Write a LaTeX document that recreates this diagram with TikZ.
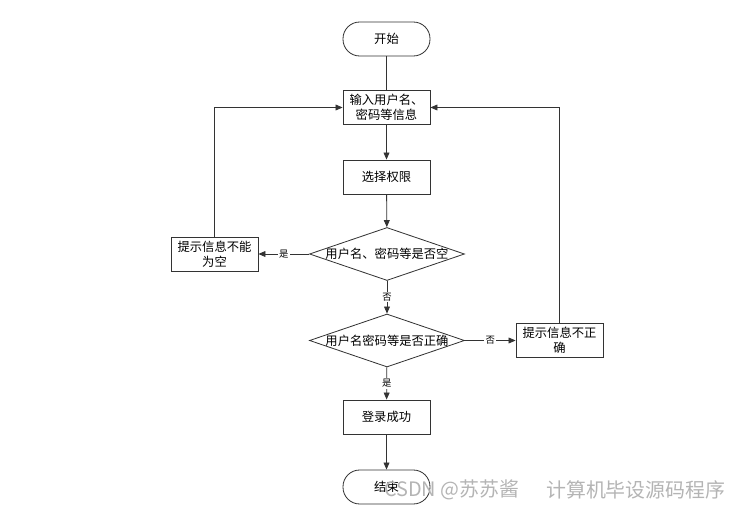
\documentclass[tikz,border=0pt]{standalone}
\usepackage{fontspec}
\setmainfont{Noto Sans CJK SC}
\usepackage{tikz}
\usetikzlibrary{arrows.meta, positioning, shapes.geometric}
\definecolor{flowline}{HTML}{333333}
\definecolor{wmgray}{HTML}{B4B4B4}

\begin{document}
\begin{tikzpicture}[x=0.03cm, y=-0.03cm,
  box/.style={draw=flowline, line width=0.7pt, minimum width=2.61cm, minimum height=1.02cm, font=\fontsize{10.5}{12.5}\selectfont, align=center, inner sep=1pt},
  term/.style={box, rounded corners=0.5cm},
  decision/.style={diamond, draw=flowline, line width=0.7pt, minimum width=4.65cm, minimum height=1.59cm, inner sep=0pt, label={[font=\fontsize{10.5}{12.5}\selectfont]center:#1}},
  flow/.style={draw=flowline, line width=0.7pt, -{Triangle[length=6pt, width=5pt]}},
  plain/.style={draw=flowline, line width=0.7pt},
  tag/.style={fill=white, font=\fontsize{8}{9}\selectfont, inner sep=1pt},
  wmark/.style={text=wmgray, font=\fontsize{17}{19}\selectfont, inner sep=0pt},
]
  \useasboundingbox (0,0) rectangle (744,509);

  % Main column
  \node[term] (start) at (386.5,39) {开始};
  \node[box] (input) at (386.5,107.5) {输入用户名、\\密码等信息};
  \node[box] (role) at (386.5,177) {选择权限};
  \node[decision={用户名、密码等是否空}] (isempty) at (387,254) {};
  \node[decision={用户名密码等是否正确}] (iscorrect) at (387,340.5) {};
  \node[box] (login) at (386.5,417) {登录成功};
  \node[term] (finish) at (386.5,487) {结束};

  % Side boxes
  \node[box] (emptytip) at (214.5,254) {提示信息不能\\为空};
  \node[box] (wrongtip) at (559.5,340.5) {提示信息不正\\确};

  % Connectors
  \draw[plain] (start) -- (input);
  \draw[flow] (input) -- (role);
  \draw[flow] (role) -- (isempty);
  \draw[flow] (isempty) -- node[tag] {是} (emptytip);
  \draw[flow] (isempty) -- node[tag] {否} (iscorrect);
  \draw[flow] (iscorrect) -- node[tag] {否} (wrongtip);
  \draw[flow] (iscorrect) -- node[tag] {是} (login);
  \draw[flow] (login) -- (finish);
  \draw[flow] (emptytip.north) |- (input.west);
  \draw[flow] (wrongtip.north) |- (input.east);

  % Watermark
  \node[wmark, anchor=west] (wmuser) at (384,490) {CSDN @苏苏酱};
  \node[wmark, anchor=west] (wmsite) at (546,490) {计算机毕设源码程序};
\end{tikzpicture}
\end{document}
